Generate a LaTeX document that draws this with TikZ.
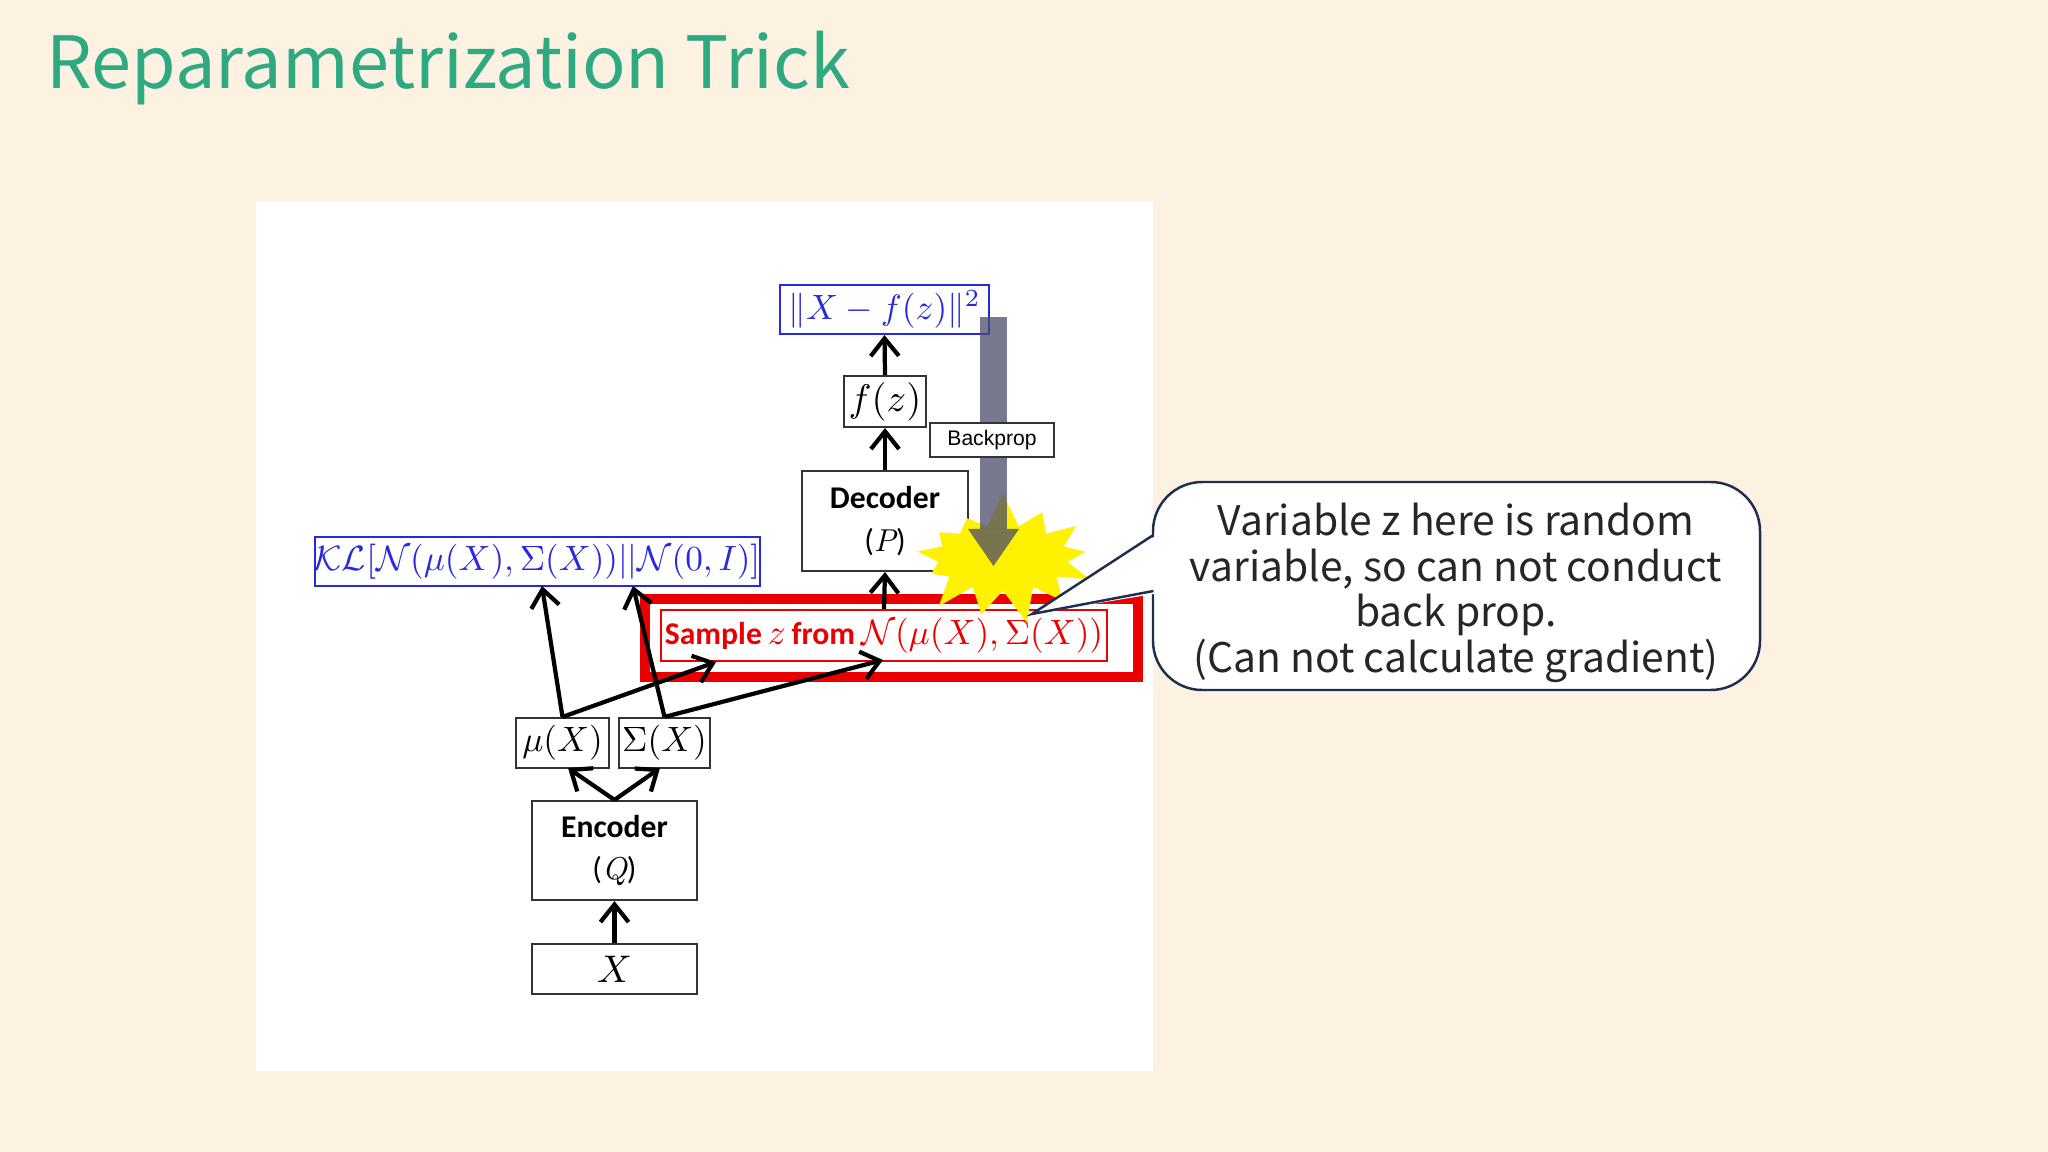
\documentclass[tikz,border=0pt]{standalone}
\usepackage{fontspec}
\setmainfont{Latin Modern Roman}
\newfontfamily\jpfont{Noto Sans CJK JP}
\newfontfamily\calib{Carlito}
\newfontfamily\arialf{Liberation Sans}
\usetikzlibrary{arrows.meta,shapes.symbols}
\definecolor{bgc}{RGB}{253,242,226}
\definecolor{titlec}{RGB}{46,170,130}
\definecolor{bluec}{RGB}{40,40,225}
\definecolor{redc}{RGB}{235,0,0}
\definecolor{navy}{RGB}{30,45,80}
\definecolor{barc}{RGB}{75,75,105}
\begin{document}
\begin{tikzpicture}[x=0.01cm,y=-0.01cm,
  bx/.style={draw=black!80, line width=0.6pt, inner sep=0pt, align=center},
  bluebx/.style={draw=bluec, line width=0.6pt, inner sep=0pt, text=bluec},
  arr/.style={line width=1.2pt, -{Straight Barb[length=5pt,width=8pt,line width=1.2pt]}},
  lbl/.style={font=\calib\bfseries\fontsize{9}{11}\selectfont}]
\fill[bgc] (0,0) rectangle (2048,1152);
\useasboundingbox (0,0) rectangle (2048,1152);
\fill[white] (256,201) rectangle (1153,1071);
\node[anchor=base west, text=titlec, font=\jpfont\fontsize{20.5}{24}\selectfont, inner sep=0pt] (title) at (46,89) {Reparametrization Trick};
% red thick box
\draw[redc, line width=2.9pt] (645,599) rectangle (1138,677);
% nodes
\node[bluebx, minimum width=2.09cm, minimum height=0.49cm] (loss) at (884.5,309.5) {\fontsize{10}{11}\selectfont$\|X-f(z)\|^2$};
\node[bx, minimum width=0.82cm, minimum height=0.51cm] (fz) at (885,401.5) {\fontsize{11}{12}\selectfont$f(z)$};
\node[bx, minimum width=1.66cm, minimum height=1.0cm, lbl] (dec) at (885,521) {Decoder\\[1pt]\normalfont\calib($\mathit{P}$)};
\node[bluebx, minimum width=4.45cm, minimum height=0.49cm] (kl) at (537.5,561.5) {\fontsize{9.8}{11}\selectfont$\mathcal{KL}[\mathcal{N}(\mu(X),\Sigma(X))||\mathcal{N}(0,I)]$};
\node[draw=redc, line width=0.6pt, inner sep=0pt, text=redc, minimum width=4.46cm, minimum height=0.51cm] (samp) at (884,635.5) {{\calib\bfseries\fontsize{9}{10}\selectfont Sample}\,$z$\,{\calib\bfseries\fontsize{9}{10}\selectfont from}\,\fontsize{9.8}{11}\selectfont$\mathcal{N}(\mu(X),\Sigma(X))$};
\node[bx, minimum width=0.93cm, minimum height=0.5cm] (mu) at (562.5,743) {\fontsize{10}{11}\selectfont$\mu(X)$};
\node[bx, minimum width=0.91cm, minimum height=0.5cm] (sig) at (664.5,743) {\fontsize{10}{11}\selectfont$\Sigma(X)$};
\node[bx, minimum width=1.65cm, minimum height=0.99cm, lbl] (enc) at (614.5,850.5) {Encoder\\[1pt]\normalfont\calib($\mathit{Q}$)};
\node[bx, minimum width=1.65cm, minimum height=0.5cm] (x) at (614.5,969) {\fontsize{11}{12}\selectfont$X$};
% coordinates
\coordinate (kla) at (542,586);
\coordinate (klb) at (633,586);
\coordinate (sa) at (716,662);
\coordinate (sb) at (883,660);
\coordinate (mub) at (568,768);
\coordinate (sgb) at (660,768);
% arrows
\draw[arr] (x.north) -- (enc.south);
\draw[arr] (enc.north) -- (mub);
\draw[arr] (enc.north) -- (sgb);
\draw[arr] (mu.north) -- (kla);
\draw[arr] (sig.north) -- (klb);
\draw[arr] (mu.north) -- (sa);
\draw[arr] (sig.north) -- (sb);
\draw[arr] (samp.north) -- (dec.south);
\draw[arr] (dec.north) -- (fz.south);
\draw[arr] (fz.north) -- (loss.south);
% star
\node[starburst, starburst points=13, starburst point height=0.35cm, random starburst=7, fill=yellow, draw=none, minimum width=2.0cm, minimum height=1.35cm] (star) at (1003,558) {};
% backprop bar
\fill[barc, opacity=0.75] (980,317) rectangle (1007,529);
\fill[barc, opacity=0.75] (968,529) -- (1019,529) -- (993.5,566) -- cycle;
\node[bx, fill=white, minimum width=1.24cm, minimum height=0.34cm, font=\arialf\fontsize{6}{7}\selectfont] (bp) at (992,440) {Backprop};
% callout
\draw[navy, line width=0.7pt, fill=white, rounded corners=14pt] (1153,482) rectangle (1760,690);
\fill[white] (1160,533) -- (1032,614) -- (1160,593) -- cycle;
\draw[navy, line width=0.7pt] (1153.4,535) -- (1032,614) -- (1153.4,591);
\node[align=center, font=\jpfont\fontsize{11.6}{13}\selectfont, text=black!85] (call) at (1456,593) {Variable z here is random\\variable, so can not conduct\\back prop.\\(Can not calculate gradient)};
\end{tikzpicture}
\end{document}
